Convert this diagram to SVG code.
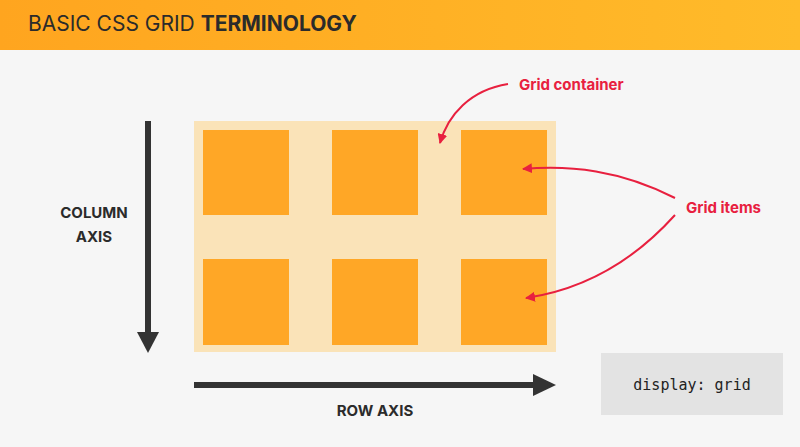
<svg xmlns="http://www.w3.org/2000/svg" width="800" height="447" viewBox="0 0 800 447">
<defs>
<linearGradient id="hg" x1="0" x2="1" y1="0" y2="0"><stop offset="0" stop-color="#ffa51f"/><stop offset="1" stop-color="#ffbb2a"/></linearGradient>
<marker id="ra" viewBox="0 0 10 10" refX="9" refY="5" markerWidth="5" markerHeight="5" orient="auto"><path d="M0,0 L10,5 L0,10 Z" fill="#e8203f"/></marker>
</defs>
<style>
.item{fill:#ffa726}
.lbl{font-family:Inter,"Liberation Sans",sans-serif;font-weight:700;font-size:15px;fill:#e8203f}
.ax{font-family:Inter,"Liberation Sans",sans-serif;font-weight:700;font-size:15px;fill:#2b2b2b}
.cn{fill:none;stroke:#e8203f;stroke-width:2}
</style>
<rect width="800" height="447" fill="#f6f6f6"/>
<rect width="800" height="50" fill="url(#hg)"/>
<text x="28" y="31" font-family="Inter,'Liberation Sans',sans-serif" font-size="21" fill="#2b2b2b">BASIC CSS GRID <tspan font-weight="700">TERMINOLOGY</tspan></text>
<g id="container"><rect x="194" y="121" width="362" height="231" fill="#fae3b8"/></g>
<g id="items">
<rect class="item" x="203" y="130" width="86" height="85"/>
<rect class="item" x="332" y="130" width="86" height="85"/>
<rect class="item" x="461" y="130" width="86" height="85"/>
<rect class="item" x="203" y="259" width="86" height="86"/>
<rect class="item" x="332" y="259" width="86" height="86"/>
<rect class="item" x="461" y="259" width="86" height="86"/>
</g>
<g id="connectors">
<path class="cn" d="M508,84 C470,90 448,115 440,143" marker-end="url(#ra)"/>
<path class="cn" d="M675,198 C620,170 570,165 523,169" marker-end="url(#ra)"/>
<path class="cn" d="M675,215 C630,265 580,290 526,298" marker-end="url(#ra)"/>
<line x1="148" y1="121" x2="148" y2="334" stroke="#333" stroke-width="6"/>
<path d="M137,332 L159,332 L148,353 Z" fill="#333"/>
<line x1="194" y1="385" x2="536" y2="385" stroke="#333" stroke-width="6"/>
<path d="M533,374 L556,385 L533,396 Z" fill="#333"/>
</g>
<g id="labels">
<text class="lbl" x="519" y="90">Grid container</text>
<text class="lbl" x="686" y="213">Grid items</text>
<text class="ax" x="94" y="218" text-anchor="middle">COLUMN</text>
<text class="ax" x="94" y="242" text-anchor="middle">AXIS</text>
<text class="ax" x="375" y="416" text-anchor="middle">ROW AXIS</text>
</g>
<g id="code"><rect x="601" y="353" width="182" height="62" fill="#e3e3e3"/>
<text x="692" y="390" text-anchor="middle" font-family="'DejaVu Sans Mono','Liberation Mono',monospace" font-size="15" fill="#222">display: grid</text></g>
</svg>
